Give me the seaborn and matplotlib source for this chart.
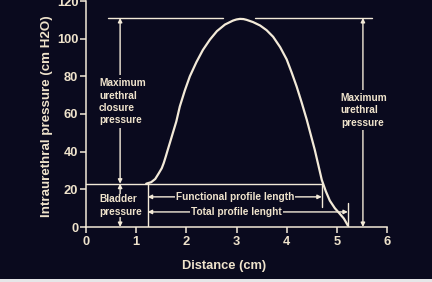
import matplotlib
matplotlib.use("Agg")
import matplotlib.pyplot as plt
import seaborn as sns
import pandas as pd
from matplotlib.patches import Rectangle

# ---- data ----
distance_cm = [1.20, 1.30, 1.38, 1.45, 1.51, 1.55, 1.59, 1.63, 1.67, 1.75, 1.80, 1.87,
               1.97, 2.07, 2.20, 2.33, 2.47, 2.61, 2.77, 2.93, 3.00, 3.07, 3.14, 3.20,
               3.33, 3.47, 3.60, 3.73, 3.87, 4.00, 4.10, 4.20, 4.30, 4.40, 4.48, 4.56,
               4.63, 4.70, 4.78, 4.86, 4.96, 5.06, 5.14, 5.22]
pressure_cmh2o = [23, 23.8, 25.5, 28.5, 31.2, 34, 37.4, 41, 44.5, 51.6, 56, 64,
                  72.5, 80, 87.5, 94, 99.5, 104, 107.5, 109.6, 110.2, 110.5, 110.4, 110,
                  108.8, 107, 104.5, 101, 95.5, 89, 82, 74.5, 66, 57, 49, 41,
                  33, 25, 19, 14, 10, 7, 4.5, 0.8]
x_ticks = [0, 1, 2, 3, 4, 5, 6]
y_ticks = [0, 20, 40, 60, 80, 100, 120]
bladder_pressure = 23
max_pressure = 111
functional_start, functional_end = 1.23, 4.70
total_end = 5.22
left_arrow_x = 0.68
right_arrow_x = 5.52
top_line_extent = (0.44, 5.70)
peak_gap = (2.73, 3.37)

BG = "#0a0a1e"
FG = "#f3ead8"
TXT = "#efe3cc"

sns.set_theme(style="dark")
plt.rcParams["font.family"] = ["Liberation Sans", "DejaVu Sans"]

fig = plt.figure(figsize=(4.32, 2.82), dpi=100, facecolor=BG)
ax = fig.add_axes([86 / 432, 1 - 227 / 282, 301 / 432, 226 / 282])
ax.set_facecolor(BG)

df = pd.DataFrame({"Distance": distance_cm, "Pressure": pressure_cmh2o})
sns.lineplot(data=df, x="Distance", y="Pressure", ax=ax, color=FG, lw=1.6,
             sort=False, estimator=None, solid_joinstyle="round")

ax.set_xlim(0, 6)
ax.set_ylim(0, 120)
ax.set_xticks(x_ticks)
ax.set_yticks(y_ticks)
ax.grid(False)
for s in ["top", "right"]:
    ax.spines[s].set_visible(False)
for s in ["left", "bottom"]:
    ax.spines[s].set_color(FG)
    ax.spines[s].set_linewidth(1.1)
ax.tick_params(axis="both", colors=FG, width=1.1, length=4.5, direction="out",
               labelsize=9.3, labelcolor=TXT, bottom=True, left=True)
ax.tick_params(axis="x", pad=2)
ax.tick_params(axis="y", pad=1)
for lab in ax.get_xticklabels() + ax.get_yticklabels():
    lab.set_fontweight("bold")

ax.set_xlabel("Distance (cm)", color=TXT, fontsize=9.3, fontweight="bold")
ax.set_ylabel("Intraurethral pressure (cm H2O)", color=TXT, fontsize=9.6, fontweight="bold")
ax.xaxis.set_label_coords(0.46, -0.145)
ax.yaxis.set_label_coords(-0.11, 0.49)

lw = 1.0
# top line (broken at the peak)
ax.plot([top_line_extent[0], peak_gap[0]], [max_pressure, max_pressure], color=FG, lw=lw)
ax.plot([peak_gap[1], top_line_extent[1]], [max_pressure, max_pressure], color=FG, lw=lw)
# bladder line and box
ax.plot([0, functional_end], [bladder_pressure, bladder_pressure], color=FG, lw=lw)
ax.plot([functional_start, functional_start], [0, bladder_pressure], color=FG, lw=lw)
ax.plot([functional_end, functional_end], [bladder_pressure, 10.5], color=FG, lw=lw)
ax.plot([total_end, total_end], [0, 13], color=FG, lw=lw)

ap = dict(arrowstyle="<|-|>", color=FG, lw=lw, mutation_scale=6, shrinkA=0, shrinkB=0)
ax.annotate("", xy=(left_arrow_x, max_pressure), xytext=(left_arrow_x, bladder_pressure),
            arrowprops=ap)
ax.annotate("", xy=(left_arrow_x, bladder_pressure), xytext=(left_arrow_x, 0),
            arrowprops=ap)
ax.annotate("", xy=(right_arrow_x, max_pressure), xytext=(right_arrow_x, 0),
            arrowprops=ap)
ax.annotate("", xy=(functional_start, 16), xytext=(functional_end, 16), arrowprops=ap)
ax.annotate("", xy=(functional_start, 8), xytext=(total_end, 8), arrowprops=ap)

box = dict(facecolor=BG, edgecolor="none", pad=0.6)
tkw = dict(color=TXT, fontsize=7.3, fontweight="bold", linespacing=1.3, zorder=5)
ax.text(0.26, 66.5, "Maximum\nurethral\nclosure\npressure", ha="left", va="center",
        bbox=dict(facecolor=BG, edgecolor="none", pad=2.0), **tkw)
ax.text(0.26, 11.5, "Bladder\npressure", ha="left", va="center",
        bbox=dict(facecolor=BG, edgecolor="none", pad=0.3), **tkw)
ax.text(5.08, 62, "Maximum\nurethral\npressure", ha="left", va="center",
        bbox=dict(facecolor=BG, edgecolor="none", pad=2.0), **tkw)
ax.text(2.97, 16, "Functional profile length", ha="center", va="center", bbox=box, **tkw)
ax.text(3.0, 8, "Total profile lenght", ha="center", va="center", bbox=box, **tkw)

fig.patches.append(Rectangle((0, 0), 1, 3.5 / 282, transform=fig.transFigure,
                             facecolor="#e6e6e8", edgecolor="none"))

fig.savefig("out.png", dpi=100, facecolor=BG)
